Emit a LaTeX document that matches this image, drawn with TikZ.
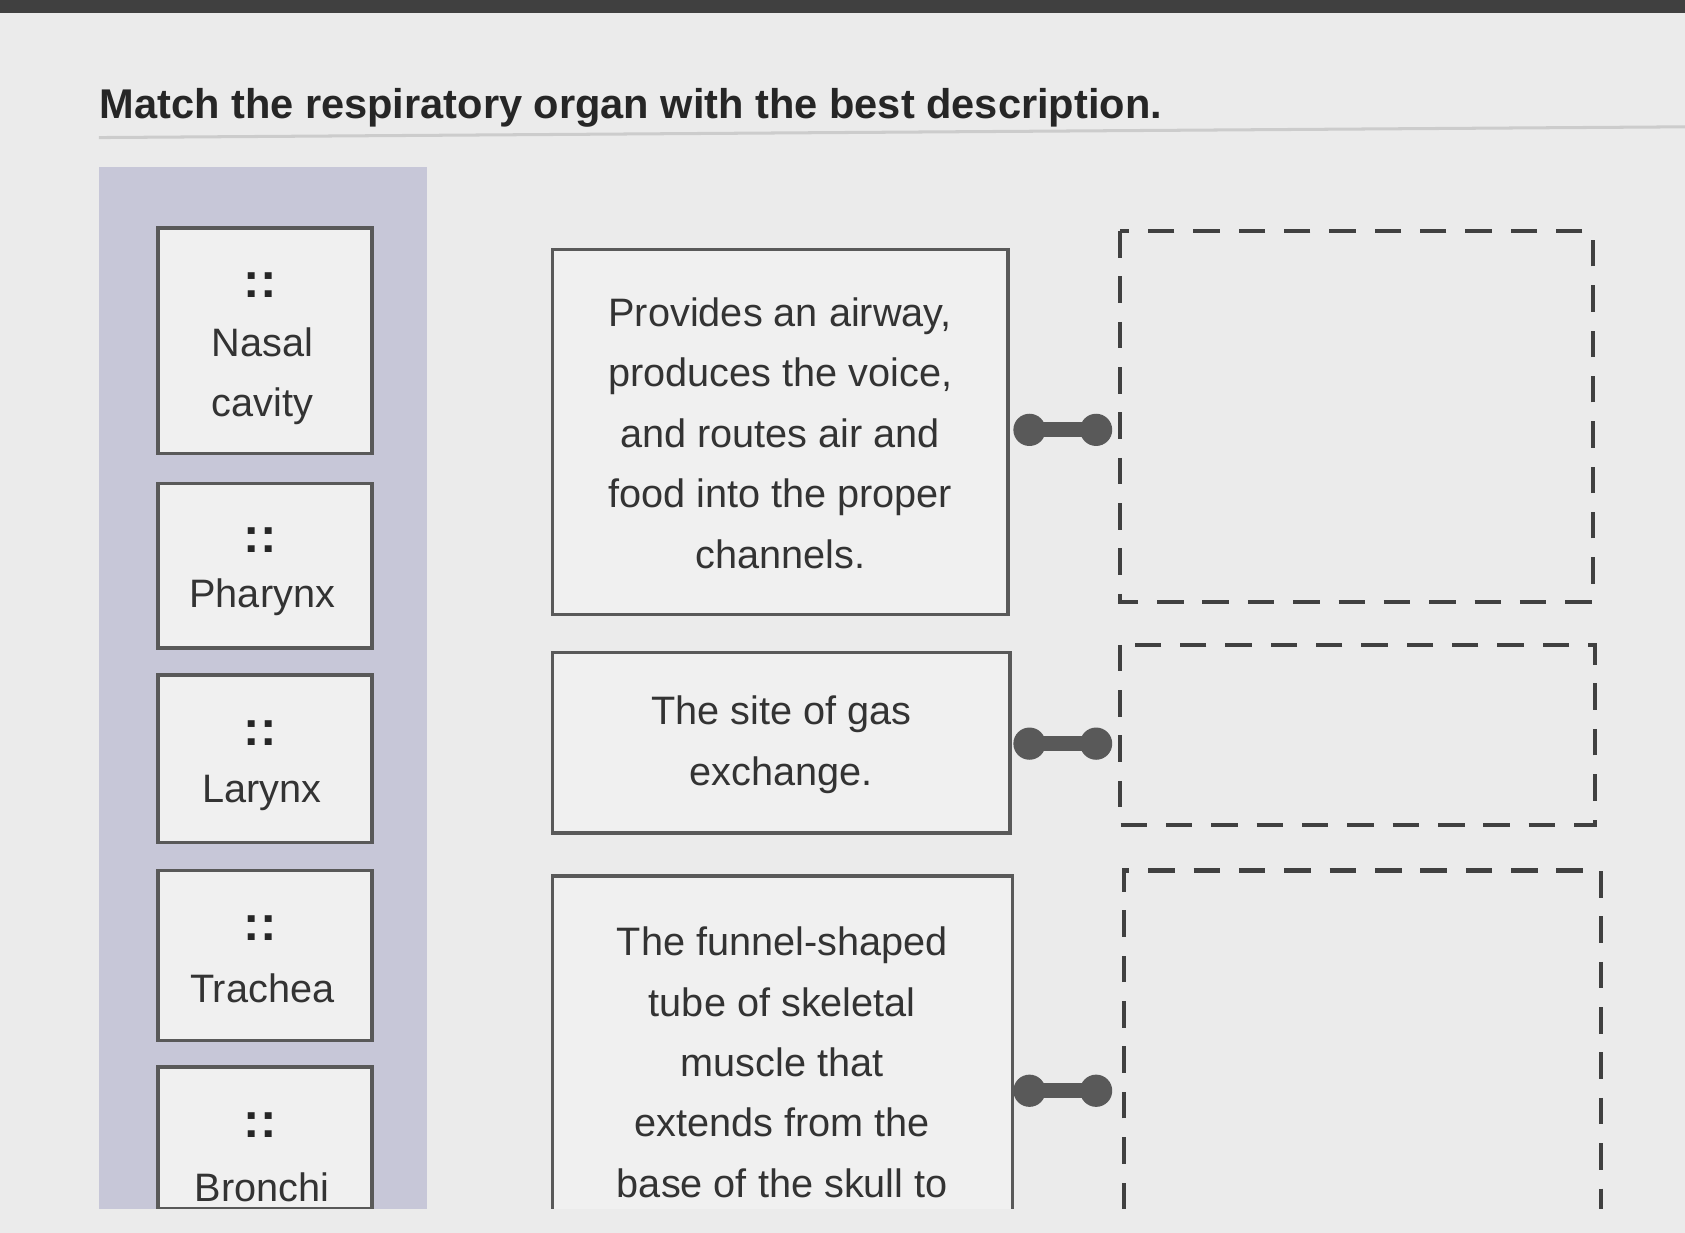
\documentclass[tikz,border=0pt]{standalone}
\usepackage{fontspec}
\setmainfont{Liberation Sans}
\begin{document}
\begin{tikzpicture}[x=0.01cm,y=-0.01cm,
  card/.style={draw=black!65,line width=0.9pt,fill=black!6},
  lbl/.style={font=\fontsize{10.5}{16}\selectfont,text=black!80,align=center},
  dashbox/.style={draw=black!75,line width=1.1pt,dash pattern=on 7pt off 5pt},
  grip/.style={font=\fontsize{13}{13}\bfseries\selectfont,text=black!85}]
\useasboundingbox (0,0) rectangle (1568,1147);
\fill[black!8] (0,0) rectangle (1568,1147);
\fill[black!75] (0,0) rectangle (1568,12);
\node[anchor=base west,inner sep=0pt,font=\fontsize{11}{12}\bfseries\selectfont,text=black!85] (title) at (92,110) {Match the respiratory organ with the best description.};
\draw[black!20,line width=0.8pt] (92,128) -- (1568,118);
\fill[blue!30!black!22] (92,155) rectangle (397,1125);
% left cards
\foreach \n/\a/\b/\t/\gy/\ty in {n/212/422/{Nasal\\cavity}/265/350,
  p/450/603/{Pharynx}/503/556,
  l/628/784/{Larynx}/682/738,
  t/810/968/{Trachea}/864/920,
  b/993/1125/{Bronchi}/1047/1105}{
  \fill[card] (147,\a) rectangle (346,\b);
  \node[grip] (g\n) at (242,\gy) {::};
  \node[lbl] (c\n) at (244,\ty) {\t};
}
\fill[black!8] (140,1125) rectangle (360,1147);
% middle boxes
\draw[card] (514,232) rectangle (938,572);
\node[lbl] (d1) at (726,403) {Provides an airway,\\produces the voice,\\and routes air and\\food into the proper\\channels.};
\draw[card] (514,607) rectangle (940,775);
\node[lbl] (d2) at (727,693) {The site of gas\\exchange.};
\draw[card] (514,1130) -- (514,815) -- (942,815) -- (942,1130);
\node[lbl,anchor=north] (d3) at (728,850) {The funnel-shaped\\tube of skeletal\\muscle that\\extends from the\\base of the skull to};
\fill[black!8] (500,1125) rectangle (960,1147);
% connectors
\foreach \y/\i in {400/1,692/2,1015/3}{
  \coordinate (la\i) at (958,\y); \coordinate (ra\i) at (1020,\y);
  \fill[black!65] (la\i) circle (15);
  \fill[black!65] (ra\i) circle (15);
  \draw[black!65,line width=4pt] (la\i) -- (ra\i);
}
% dashed targets
\draw[dashbox] (1042,215) rectangle (1482,560);
\draw[dashbox] (1042,600) rectangle (1484,768);
\draw[dashbox] (1046,1125) -- (1046,810) -- (1490,810) -- (1490,1125);
\fill[black!8] (1030,1125) rectangle (1500,1147);
\end{tikzpicture}
\end{document}
